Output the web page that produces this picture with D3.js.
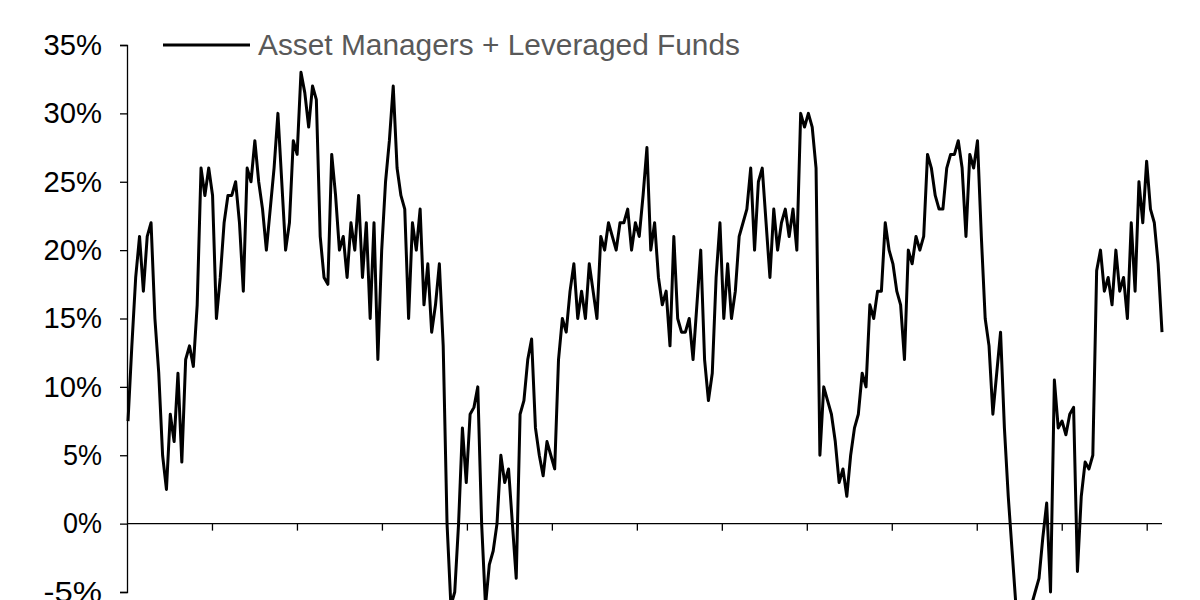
<!DOCTYPE html>
<html><head><meta charset="utf-8">
<script src="https://cdn.jsdelivr.net/npm/d3@7"></script>
<style>body{margin:0;background:#fff}</style>
</head><body><div></div>
<script>
// positioning net long, % of open interest, roughly weekly samples
var values = [7.5,13,18,21,17,21,22,15,11,5,2.5,8,6,11,4.5,12,13,11.5,16,26,24,26,24,15,18,22,24,24,25,22,17,26,25,28,25,23,20,23,26,30,25,20,22,28,27,33,31.5,29,32,31,21,18,17.5,27,24,20,21,18,22,20,24,18,22,15,22,12,20,25,28,32,26,24,23,15,22,20,23,16,19,14,16,19,13,0,-6,-5,0,7,3,8,8.5,10,0,-6,-3,-2,0,5,3,4,0,-4,8,9,12,13.5,7,5,3.5,6,5,4,12,15,14,17,19,15,17,15,19,17,15,21,20,22,21,20,22,22,23,20,22,21,24,27.5,20,22,18,16,17,13,21,15,14,14,15,12,16,20,12,9,11,18,22,15,19,15,17,21,22,23,26,20,25,26,22,18,23,20,22,23,21,23,20,30,29,30,29,26,5,10,9,8,6,3,4,2,5,7,8,11,10,16,15,17,17,22,20,19,17,16,12,20,19,21,20,21,27,26,24,23,23,26,27,27,28,26,21,27,26,28,21,15,13,8,11,14,7,2,-2,-6,-8,-9,-8,-6,-5,-4,-1,1.5,-5,10.5,7,7.5,6.5,8,8.5,-3.5,2,4.5,4,5,18.5,20,17,18,16,20,17,18,15,22,17,25,22,26.5,23,22,19,14];
var yTicks = [-5,0,5,10,15,20,25,30,35];
var yearTicks = [1,2,3,4,5,6,7,8,9,10,11,12];
var legendLabel = "Asset Managers + Leveraged Funds";

function init() {
var w = 1200, h = 600;
var svg = d3.select("div").append("svg").attr("width", w).attr("height", h)
    .style("font-family", "'Liberation Sans', Arial, sans-serif");

var x = d3.scaleLinear().domain([0, values.length - 1]).range([128, 1162]);
var xt = d3.scaleLinear().domain([0, 12.18]).range([127, 1162]);
var y = d3.scaleLinear().domain([-5, 35]).range([592, 45]);

var ya = svg.append("g").attr("transform", "translate(127,0)")
    .call(d3.axisLeft(y).tickValues(yTicks).tickSize(7).tickPadding(18)
        .tickFormat(function(d) { return d + "%"; }));
ya.selectAll("text").attr("font-size", 29).attr("fill", "#000")
    .attr("textLength", function(d) { return (String(d).length + 1) * 19.5; })
    .attr("lengthAdjust", "spacingAndGlyphs");
ya.selectAll("line,path").attr("stroke", "#000").attr("stroke-width", 1.3);

var xa = svg.append("g").attr("transform", "translate(0," + y(0) + ")")
    .call(d3.axisBottom(xt).tickValues(yearTicks).tickSize(7).tickFormat(""));
xa.select("path").attr("d", "M127,0H1162").attr("stroke", "#000").attr("stroke-width", 1.3);
xa.selectAll("line").attr("stroke", "#000").attr("stroke-width", 1.3);

svg.append("path").datum(values)
    .attr("fill", "none").attr("stroke", "#000").attr("stroke-width", 3)
    .attr("stroke-linejoin", "round")
    .attr("d", d3.line().x(function(d, i) { return x(i); }).y(function(d) { return y(d); }));

svg.append("line").attr("x1", 163).attr("x2", 250).attr("y1", 45).attr("y2", 45)
    .attr("stroke", "#000").attr("stroke-width", 3);
svg.append("text").attr("x", 258).attr("y", 55).text(legendLabel)
    .attr("font-size", 29).attr("fill", "#595959")
    .attr("textLength", 482).attr("lengthAdjust", "spacingAndGlyphs");
}
window.onload = init;
</script></body></html>
